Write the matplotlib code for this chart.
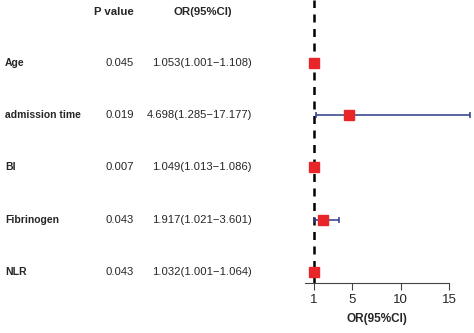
import matplotlib.pyplot as plt
import matplotlib.transforms as mtransforms
import numpy as np

# data
variables = ['Age', 'admission time', 'BI', 'Fibrinogen', 'NLR']
p_values = ['0.045', '0.019', '0.007', '0.043', '0.043']
or_est = [1.053, 4.698, 1.049, 1.917, 1.032]
ci_low = [1.001, 1.285, 1.013, 1.021, 1.001]
ci_high = [1.108, 17.177, 1.086, 3.601, 1.064]
xticks = [1, 5, 10, 15]

plt.rcParams['font.family'] = ['Liberation Sans', 'DejaVu Sans']
txt_color = '#262626'

fig = plt.figure(figsize=(4.74, 3.33), dpi=100)
# 轴区域 (像素换算)
ax = fig.add_axes([304 / 474, 1 - 283 / 333, (449 - 304) / 474, 283 / 333])

y = np.arange(len(variables), 0, -1)
est = np.array(or_est)
err = np.vstack([est - np.array(ci_low), np.array(ci_high) - est])

ax.axvline(1, color='black', lw=1.8, ls=(0, (3.2, 2.6)), zorder=1)
ax.errorbar(est, y, xerr=err, fmt='none', ecolor='#2e3a8c', elinewidth=1.1,
            capsize=2.5, capthick=1.1, clip_on=False, zorder=2)
ax.plot(est, y, 's', color='#e8262a', markersize=6.5, zorder=3, clip_on=False)

ax.set_xlim(0, 15)
ax.set_ylim(0.79, 6.2)
ax.set_xticks(xticks)
ax.set_xticklabels([str(t) for t in xticks], fontsize=9.5, color=txt_color)
ax.set_yticks([])
for s in ['left', 'top', 'right']:
    ax.spines[s].set_visible(False)
ax.spines['bottom'].set_bounds(0.1, 15)
ax.spines['bottom'].set_color('#444444')
ax.tick_params(axis='x', length=5, color='#444444', pad=3)
ax.set_xlabel('OR(95%CI)', fontsize=8.5, fontweight='bold', labelpad=5, color=txt_color)

# 左侧文字表格
trans = mtransforms.blended_transform_factory(fig.transFigure, ax.transData)
ax.text(114 / 474, 5.98, 'P value', transform=trans, ha='center', va='center',
        fontsize=8.2, fontweight='bold', color=txt_color)
ax.text(203 / 474, 5.98, 'OR(95%CI)', transform=trans, ha='center', va='center',
        fontsize=8.2, fontweight='bold', color=txt_color)
for yi, name, p, e, lo, hi in zip(y, variables, p_values, or_est, ci_low, ci_high):
    ax.text(5 / 474, yi, name, transform=trans, ha='left', va='center',
            fontsize=7.5, fontweight='bold', color=txt_color)
    ax.text(134 / 474, yi, p, transform=trans, ha='right', va='center',
            fontsize=8.1, color=txt_color)
    ax.text(252 / 474, yi, f'{e:.3f}({lo:.3f}\u2212{hi:.3f})', transform=trans,
            ha='right', va='center', fontsize=8.1, color=txt_color)

fig.savefig('out.png', dpi=100)
